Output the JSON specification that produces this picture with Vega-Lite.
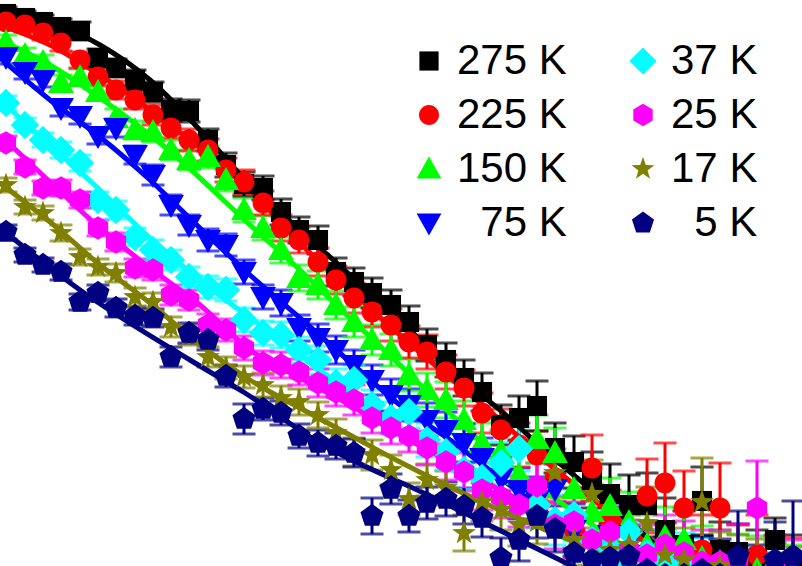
{
"$schema": "https://vega.github.io/schema/vega-lite/v6.json",
"width": 802, "height": 566, "padding": 0, "autosize": {"type": "none"},
"config": {"view": {"stroke": null}, "font": "Liberation Sans",
 "legend": {"title": null, "orient": "none", "legendX": 408, "legendY": 40, "columns": 2, "symbolSize": 1600, "symbolStrokeWidth": 0, "symbolOpacity": 1, "labelFontSize": 42, "labelFont": "Liberation Sans", "labelColor": "#000000", "labelOffset": 7, "rowPadding": 12, "columnPadding": 55, "padding": 0, "labelLimit": 400}},
"datasets": {
"pts": [
{"T":"275 K","q":6,"I":14,"e":7},{"T":"275 K","q":25,"I":18,"e":7},{"T":"275 K","q":43,"I":22,"e":7},{"T":"275 K","q":61,"I":27,"e":8},{"T":"275 K","q":80,"I":31,"e":9},{"T":"275 K","q":98,"I":58,"e":9},{"T":"275 K","q":116,"I":68,"e":9},{"T":"275 K","q":135,"I":80,"e":10},{"T":"275 K","q":153,"I":92,"e":10},{"T":"275 K","q":171,"I":110,"e":11},{"T":"275 K","q":189,"I":111,"e":11},{"T":"275 K","q":208,"I":140,"e":11},{"T":"275 K","q":226,"I":165,"e":12},{"T":"275 K","q":244,"I":184,"e":12},{"T":"275 K","q":263,"I":188,"e":12},{"T":"275 K","q":281,"I":212,"e":13},{"T":"275 K","q":299,"I":230,"e":13},{"T":"275 K","q":318,"I":240,"e":14},{"T":"275 K","q":336,"I":272,"e":14},{"T":"275 K","q":354,"I":282,"e":14},{"T":"275 K","q":372,"I":293,"e":15},{"T":"275 K","q":391,"I":305,"e":15},{"T":"275 K","q":409,"I":322,"e":16},{"T":"275 K","q":427,"I":345,"e":16},{"T":"275 K","q":446,"I":360,"e":17},{"T":"275 K","q":464,"I":378,"e":18},{"T":"275 K","q":482,"I":392,"e":19},{"T":"275 K","q":501,"I":425,"e":20},{"T":"275 K","q":519,"I":418,"e":22},{"T":"275 K","q":537,"I":406,"e":25},{"T":"275 K","q":555,"I":448,"e":25},{"T":"275 K","q":574,"I":462,"e":26},{"T":"275 K","q":592,"I":480,"e":28},{"T":"275 K","q":610,"I":494,"e":30},{"T":"275 K","q":629,"I":505,"e":30},{"T":"275 K","q":647,"I":505,"e":32},{"T":"275 K","q":665,"I":530,"e":32},{"T":"275 K","q":684,"I":545,"e":34},{"T":"275 K","q":702,"I":501,"e":34},{"T":"275 K","q":720,"I":550,"e":28},{"T":"275 K","q":738,"I":552,"e":28},{"T":"275 K","q":757,"I":560,"e":30},{"T":"275 K","q":775,"I":540,"e":22},{"T":"275 K","q":793,"I":565,"e":30},
{"T":"225 K","q":6,"I":22,"e":7},{"T":"225 K","q":25,"I":25,"e":7},{"T":"225 K","q":43,"I":33,"e":7},{"T":"225 K","q":61,"I":43,"e":8},{"T":"225 K","q":80,"I":60,"e":8},{"T":"225 K","q":98,"I":77,"e":9},{"T":"225 K","q":116,"I":90,"e":9},{"T":"225 K","q":135,"I":100,"e":9},{"T":"225 K","q":153,"I":115,"e":10},{"T":"225 K","q":171,"I":128,"e":10},{"T":"225 K","q":189,"I":140,"e":11},{"T":"225 K","q":208,"I":150,"e":11},{"T":"225 K","q":226,"I":170,"e":12},{"T":"225 K","q":244,"I":182,"e":12},{"T":"225 K","q":263,"I":203,"e":12},{"T":"225 K","q":281,"I":228,"e":13},{"T":"225 K","q":299,"I":240,"e":13},{"T":"225 K","q":318,"I":262,"e":14},{"T":"225 K","q":336,"I":280,"e":14},{"T":"225 K","q":354,"I":298,"e":15},{"T":"225 K","q":372,"I":312,"e":15},{"T":"225 K","q":391,"I":325,"e":16},{"T":"225 K","q":409,"I":342,"e":16},{"T":"225 K","q":427,"I":352,"e":17},{"T":"225 K","q":446,"I":372,"e":17},{"T":"225 K","q":464,"I":388,"e":18},{"T":"225 K","q":482,"I":413,"e":20},{"T":"225 K","q":501,"I":430,"e":21},{"T":"225 K","q":519,"I":445,"e":22},{"T":"225 K","q":537,"I":455,"e":24},{"T":"225 K","q":555,"I":478,"e":25},{"T":"225 K","q":574,"I":530,"e":28},{"T":"225 K","q":592,"I":468,"e":33},{"T":"225 K","q":610,"I":520,"e":30},{"T":"225 K","q":629,"I":530,"e":32},{"T":"225 K","q":647,"I":496,"e":37},{"T":"225 K","q":665,"I":483,"e":40},{"T":"225 K","q":684,"I":508,"e":37},{"T":"225 K","q":702,"I":550,"e":35},{"T":"225 K","q":720,"I":508,"e":45},{"T":"225 K","q":738,"I":565,"e":40},{"T":"225 K","q":757,"I":555,"e":40},{"T":"225 K","q":775,"I":575,"e":40},{"T":"225 K","q":793,"I":578,"e":40},
{"T":"150 K","q":6,"I":42,"e":7},{"T":"150 K","q":25,"I":55,"e":7},{"T":"150 K","q":43,"I":62,"e":7},{"T":"150 K","q":61,"I":83,"e":8},{"T":"150 K","q":80,"I":77,"e":8},{"T":"150 K","q":98,"I":92,"e":8},{"T":"150 K","q":116,"I":118,"e":9},{"T":"150 K","q":135,"I":130,"e":9},{"T":"150 K","q":153,"I":132,"e":10},{"T":"150 K","q":171,"I":150,"e":10},{"T":"150 K","q":189,"I":160,"e":10},{"T":"150 K","q":208,"I":157,"e":11},{"T":"150 K","q":226,"I":180,"e":11},{"T":"150 K","q":244,"I":210,"e":12},{"T":"150 K","q":263,"I":228,"e":12},{"T":"150 K","q":281,"I":250,"e":13},{"T":"150 K","q":299,"I":278,"e":13},{"T":"150 K","q":318,"I":285,"e":14},{"T":"150 K","q":336,"I":305,"e":14},{"T":"150 K","q":354,"I":322,"e":15},{"T":"150 K","q":372,"I":340,"e":15},{"T":"150 K","q":391,"I":350,"e":16},{"T":"150 K","q":409,"I":375,"e":16},{"T":"150 K","q":427,"I":390,"e":17},{"T":"150 K","q":446,"I":400,"e":18},{"T":"150 K","q":464,"I":420,"e":19},{"T":"150 K","q":482,"I":443,"e":20},{"T":"150 K","q":501,"I":452,"e":21},{"T":"150 K","q":519,"I":475,"e":22},{"T":"150 K","q":537,"I":439,"e":24},{"T":"150 K","q":555,"I":453,"e":25},{"T":"150 K","q":574,"I":489,"e":26},{"T":"150 K","q":592,"I":512,"e":28},{"T":"150 K","q":610,"I":506,"e":28},{"T":"150 K","q":629,"I":522,"e":30},{"T":"150 K","q":647,"I":545,"e":30},{"T":"150 K","q":665,"I":537,"e":30},{"T":"150 K","q":684,"I":540,"e":32},{"T":"150 K","q":702,"I":558,"e":32},{"T":"150 K","q":720,"I":562,"e":32},{"T":"150 K","q":738,"I":566,"e":32},{"T":"150 K","q":757,"I":570,"e":34},{"T":"150 K","q":775,"I":575,"e":34},{"T":"150 K","q":793,"I":580,"e":35},
{"T":"75 K","q":6,"I":57,"e":7},{"T":"75 K","q":25,"I":72,"e":7},{"T":"75 K","q":43,"I":80,"e":7},{"T":"75 K","q":61,"I":108,"e":8},{"T":"75 K","q":80,"I":116,"e":8},{"T":"75 K","q":98,"I":136,"e":8},{"T":"75 K","q":116,"I":128,"e":9},{"T":"75 K","q":135,"I":155,"e":9},{"T":"75 K","q":153,"I":175,"e":10},{"T":"75 K","q":171,"I":205,"e":10},{"T":"75 K","q":189,"I":225,"e":10},{"T":"75 K","q":208,"I":240,"e":11},{"T":"75 K","q":226,"I":245,"e":11},{"T":"75 K","q":244,"I":272,"e":12},{"T":"75 K","q":263,"I":297,"e":12},{"T":"75 K","q":281,"I":303,"e":13},{"T":"75 K","q":299,"I":328,"e":13},{"T":"75 K","q":318,"I":338,"e":14},{"T":"75 K","q":336,"I":350,"e":14},{"T":"75 K","q":354,"I":365,"e":15},{"T":"75 K","q":372,"I":380,"e":15},{"T":"75 K","q":391,"I":395,"e":16},{"T":"75 K","q":409,"I":405,"e":16},{"T":"75 K","q":427,"I":420,"e":17},{"T":"75 K","q":446,"I":430,"e":18},{"T":"75 K","q":464,"I":443,"e":19},{"T":"75 K","q":482,"I":458,"e":20},{"T":"75 K","q":501,"I":478,"e":21},{"T":"75 K","q":519,"I":490,"e":22},{"T":"75 K","q":537,"I":500,"e":23},{"T":"75 K","q":555,"I":489,"e":25},{"T":"75 K","q":574,"I":530,"e":26},{"T":"75 K","q":592,"I":545,"e":27},{"T":"75 K","q":610,"I":535,"e":28},{"T":"75 K","q":629,"I":555,"e":29},{"T":"75 K","q":647,"I":560,"e":30},{"T":"75 K","q":665,"I":570,"e":33},{"T":"75 K","q":684,"I":575,"e":32},{"T":"75 K","q":702,"I":572,"e":35},{"T":"75 K","q":720,"I":580,"e":33},{"T":"75 K","q":738,"I":585,"e":35},{"T":"75 K","q":757,"I":588,"e":35},{"T":"75 K","q":775,"I":590,"e":36},{"T":"75 K","q":793,"I":595,"e":36},
{"T":"37 K","q":6,"I":103,"e":7},{"T":"37 K","q":25,"I":125,"e":7},{"T":"37 K","q":43,"I":140,"e":7},{"T":"37 K","q":61,"I":150,"e":8},{"T":"37 K","q":80,"I":163,"e":8},{"T":"37 K","q":98,"I":200,"e":8},{"T":"37 K","q":116,"I":210,"e":9},{"T":"37 K","q":135,"I":237,"e":9},{"T":"37 K","q":153,"I":250,"e":10},{"T":"37 K","q":171,"I":260,"e":10},{"T":"37 K","q":189,"I":277,"e":10},{"T":"37 K","q":208,"I":287,"e":11},{"T":"37 K","q":226,"I":290,"e":11},{"T":"37 K","q":244,"I":320,"e":12},{"T":"37 K","q":263,"I":333,"e":12},{"T":"37 K","q":281,"I":335,"e":13},{"T":"37 K","q":299,"I":350,"e":13},{"T":"37 K","q":318,"I":360,"e":14},{"T":"37 K","q":336,"I":383,"e":14},{"T":"37 K","q":354,"I":380,"e":15},{"T":"37 K","q":372,"I":405,"e":15},{"T":"37 K","q":391,"I":418,"e":16},{"T":"37 K","q":409,"I":412,"e":16},{"T":"37 K","q":427,"I":440,"e":17},{"T":"37 K","q":446,"I":452,"e":18},{"T":"37 K","q":464,"I":470,"e":19},{"T":"37 K","q":482,"I":478,"e":20},{"T":"37 K","q":501,"I":463,"e":21},{"T":"37 K","q":519,"I":449,"e":22},{"T":"37 K","q":537,"I":505,"e":23},{"T":"37 K","q":555,"I":520,"e":25},{"T":"37 K","q":574,"I":515,"e":26},{"T":"37 K","q":592,"I":540,"e":27},{"T":"37 K","q":610,"I":548,"e":28},{"T":"37 K","q":629,"I":532,"e":30},{"T":"37 K","q":647,"I":553,"e":30},{"T":"37 K","q":665,"I":560,"e":30},{"T":"37 K","q":684,"I":565,"e":32},{"T":"37 K","q":702,"I":570,"e":32},{"T":"37 K","q":720,"I":575,"e":33},{"T":"37 K","q":738,"I":580,"e":34},{"T":"37 K","q":757,"I":583,"e":35},{"T":"37 K","q":775,"I":588,"e":35},{"T":"37 K","q":793,"I":590,"e":36},
{"T":"25 K","q":6,"I":143,"e":7},{"T":"25 K","q":25,"I":167,"e":7},{"T":"25 K","q":43,"I":188,"e":7},{"T":"25 K","q":61,"I":188,"e":8},{"T":"25 K","q":80,"I":200,"e":8},{"T":"25 K","q":98,"I":228,"e":8},{"T":"25 K","q":116,"I":242,"e":9},{"T":"25 K","q":135,"I":268,"e":9},{"T":"25 K","q":153,"I":270,"e":10},{"T":"25 K","q":171,"I":295,"e":10},{"T":"25 K","q":189,"I":300,"e":10},{"T":"25 K","q":208,"I":325,"e":11},{"T":"25 K","q":226,"I":330,"e":11},{"T":"25 K","q":244,"I":348,"e":12},{"T":"25 K","q":263,"I":363,"e":12},{"T":"25 K","q":281,"I":365,"e":13},{"T":"25 K","q":299,"I":372,"e":13},{"T":"25 K","q":318,"I":383,"e":14},{"T":"25 K","q":336,"I":392,"e":14},{"T":"25 K","q":354,"I":400,"e":15},{"T":"25 K","q":372,"I":418,"e":15},{"T":"25 K","q":391,"I":428,"e":16},{"T":"25 K","q":409,"I":436,"e":16},{"T":"25 K","q":427,"I":448,"e":17},{"T":"25 K","q":446,"I":462,"e":18},{"T":"25 K","q":464,"I":472,"e":19},{"T":"25 K","q":482,"I":490,"e":20},{"T":"25 K","q":501,"I":497,"e":21},{"T":"25 K","q":519,"I":505,"e":22},{"T":"25 K","q":537,"I":486,"e":23},{"T":"25 K","q":555,"I":525,"e":24},{"T":"25 K","q":574,"I":522,"e":26},{"T":"25 K","q":592,"I":540,"e":27},{"T":"25 K","q":610,"I":532,"e":28},{"T":"25 K","q":629,"I":550,"e":30},{"T":"25 K","q":647,"I":555,"e":30},{"T":"25 K","q":665,"I":545,"e":30},{"T":"25 K","q":684,"I":553,"e":32},{"T":"25 K","q":702,"I":562,"e":32},{"T":"25 K","q":720,"I":562,"e":32},{"T":"25 K","q":738,"I":558,"e":34},{"T":"25 K","q":757,"I":508,"e":47},{"T":"25 K","q":775,"I":570,"e":34},{"T":"25 K","q":793,"I":575,"e":35},
{"T":"17 K","q":6,"I":185,"e":7},{"T":"17 K","q":25,"I":207,"e":7},{"T":"17 K","q":43,"I":213,"e":7},{"T":"17 K","q":61,"I":233,"e":8},{"T":"17 K","q":80,"I":257,"e":8},{"T":"17 K","q":98,"I":267,"e":8},{"T":"17 K","q":116,"I":273,"e":9},{"T":"17 K","q":135,"I":297,"e":9},{"T":"17 K","q":153,"I":302,"e":9},{"T":"17 K","q":171,"I":327,"e":10},{"T":"17 K","q":189,"I":335,"e":10},{"T":"17 K","q":208,"I":357,"e":10},{"T":"17 K","q":226,"I":368,"e":11},{"T":"17 K","q":244,"I":377,"e":11},{"T":"17 K","q":263,"I":385,"e":12},{"T":"17 K","q":281,"I":398,"e":12},{"T":"17 K","q":299,"I":402,"e":13},{"T":"17 K","q":318,"I":415,"e":13},{"T":"17 K","q":336,"I":433,"e":14},{"T":"17 K","q":354,"I":452,"e":14},{"T":"17 K","q":372,"I":455,"e":15},{"T":"17 K","q":391,"I":470,"e":15},{"T":"17 K","q":409,"I":499,"e":16},{"T":"17 K","q":427,"I":480,"e":16},{"T":"17 K","q":446,"I":488,"e":17},{"T":"17 K","q":464,"I":533,"e":18},{"T":"17 K","q":482,"I":502,"e":19},{"T":"17 K","q":501,"I":510,"e":20},{"T":"17 K","q":519,"I":525,"e":21},{"T":"17 K","q":537,"I":522,"e":22},{"T":"17 K","q":555,"I":473,"e":24},{"T":"17 K","q":574,"I":540,"e":25},{"T":"17 K","q":592,"I":494,"e":34},{"T":"17 K","q":610,"I":550,"e":28},{"T":"17 K","q":629,"I":545,"e":30},{"T":"17 K","q":647,"I":523,"e":36},{"T":"17 K","q":665,"I":555,"e":32},{"T":"17 K","q":684,"I":560,"e":32},{"T":"17 K","q":702,"I":502,"e":44},{"T":"17 K","q":720,"I":566,"e":34},{"T":"17 K","q":738,"I":570,"e":35},{"T":"17 K","q":757,"I":575,"e":36},{"T":"17 K","q":775,"I":580,"e":37},{"T":"17 K","q":793,"I":585,"e":38},
{"T":"5 K","q":6,"I":232,"e":7},{"T":"5 K","q":25,"I":255,"e":7},{"T":"5 K","q":43,"I":265,"e":7},{"T":"5 K","q":61,"I":272,"e":8},{"T":"5 K","q":80,"I":302,"e":8},{"T":"5 K","q":98,"I":293,"e":8},{"T":"5 K","q":116,"I":308,"e":9},{"T":"5 K","q":135,"I":316,"e":9},{"T":"5 K","q":153,"I":318,"e":9},{"T":"5 K","q":171,"I":357,"e":10},{"T":"5 K","q":189,"I":333,"e":10},{"T":"5 K","q":208,"I":340,"e":10},{"T":"5 K","q":226,"I":376,"e":11},{"T":"5 K","q":244,"I":419,"e":15},{"T":"5 K","q":263,"I":409,"e":11},{"T":"5 K","q":281,"I":413,"e":12},{"T":"5 K","q":299,"I":436,"e":12},{"T":"5 K","q":318,"I":443,"e":13},{"T":"5 K","q":336,"I":446,"e":13},{"T":"5 K","q":354,"I":453,"e":14},{"T":"5 K","q":372,"I":516,"e":18},{"T":"5 K","q":391,"I":489,"e":15},{"T":"5 K","q":409,"I":516,"e":16},{"T":"5 K","q":427,"I":503,"e":16},{"T":"5 K","q":446,"I":499,"e":17},{"T":"5 K","q":464,"I":506,"e":18},{"T":"5 K","q":482,"I":518,"e":19},{"T":"5 K","q":501,"I":558,"e":20},{"T":"5 K","q":519,"I":540,"e":21},{"T":"5 K","q":537,"I":516,"e":22},{"T":"5 K","q":555,"I":529,"e":23},{"T":"5 K","q":574,"I":553,"e":24},{"T":"5 K","q":592,"I":560,"e":26},{"T":"5 K","q":610,"I":558,"e":27},{"T":"5 K","q":629,"I":556,"e":28},{"T":"5 K","q":647,"I":570,"e":30},{"T":"5 K","q":665,"I":575,"e":30},{"T":"5 K","q":684,"I":575,"e":32},{"T":"5 K","q":702,"I":570,"e":34},{"T":"5 K","q":720,"I":575,"e":36},{"T":"5 K","q":738,"I":556,"e":45},{"T":"5 K","q":757,"I":585,"e":40},{"T":"5 K","q":775,"I":560,"e":38},{"T":"5 K","q":793,"I":556,"e":55}
],
"fit": [
{"T":"275 K","q":0,"I":12},{"T":"275 K","q":50,"I":22},{"T":"275 K","q":100,"I":45},{"T":"275 K","q":150,"I":80},{"T":"275 K","q":200,"I":130},{"T":"275 K","q":250,"I":185},{"T":"275 K","q":300,"I":230},{"T":"275 K","q":350,"I":275},{"T":"275 K","q":400,"I":320},{"T":"275 K","q":450,"I":370},{"T":"275 K","q":500,"I":410},{"T":"275 K","q":550,"I":455},{"T":"275 K","q":600,"I":497},{"T":"275 K","q":690,"I":575},
{"T":"225 K","q":0,"I":25},{"T":"225 K","q":50,"I":45},{"T":"225 K","q":100,"I":75},{"T":"225 K","q":150,"I":110},{"T":"225 K","q":200,"I":148},{"T":"225 K","q":250,"I":190},{"T":"225 K","q":300,"I":243},{"T":"225 K","q":350,"I":290},{"T":"225 K","q":400,"I":335},{"T":"225 K","q":450,"I":378},{"T":"225 K","q":500,"I":420},{"T":"225 K","q":550,"I":465},{"T":"225 K","q":600,"I":505},{"T":"225 K","q":690,"I":580},
{"T":"150 K","q":0,"I":40},{"T":"150 K","q":50,"I":65},{"T":"150 K","q":100,"I":98},{"T":"150 K","q":150,"I":135},{"T":"150 K","q":180,"I":160},{"T":"150 K","q":250,"I":225},{"T":"150 K","q":300,"I":270},{"T":"150 K","q":350,"I":318},{"T":"150 K","q":400,"I":365},{"T":"150 K","q":457,"I":420},{"T":"150 K","q":500,"I":458},{"T":"150 K","q":550,"I":495},{"T":"150 K","q":600,"I":530},{"T":"150 K","q":670,"I":575},
{"T":"75 K","q":0,"I":58},{"T":"75 K","q":50,"I":100},{"T":"75 K","q":100,"I":137},{"T":"75 K","q":150,"I":180},{"T":"75 K","q":200,"I":228},{"T":"75 K","q":250,"I":275},{"T":"75 K","q":300,"I":318},{"T":"75 K","q":350,"I":362},{"T":"75 K","q":400,"I":405},{"T":"75 K","q":450,"I":440},{"T":"75 K","q":500,"I":478},{"T":"75 K","q":550,"I":515},{"T":"75 K","q":600,"I":550},{"T":"75 K","q":640,"I":575},
{"T":"37 K","q":0,"I":100},{"T":"37 K","q":50,"I":145},{"T":"37 K","q":100,"I":190},{"T":"37 K","q":150,"I":238},{"T":"37 K","q":200,"I":280},{"T":"37 K","q":250,"I":318},{"T":"37 K","q":300,"I":355},{"T":"37 K","q":350,"I":393},{"T":"37 K","q":400,"I":430},{"T":"37 K","q":450,"I":462},{"T":"37 K","q":500,"I":495},{"T":"37 K","q":550,"I":525},{"T":"37 K","q":600,"I":553},{"T":"37 K","q":640,"I":575},
{"T":"25 K","q":0,"I":135},{"T":"25 K","q":50,"I":182},{"T":"25 K","q":100,"I":228},{"T":"25 K","q":150,"I":268},{"T":"25 K","q":200,"I":305},{"T":"25 K","q":250,"I":350},{"T":"25 K","q":300,"I":378},{"T":"25 K","q":350,"I":405},{"T":"25 K","q":400,"I":435},{"T":"25 K","q":450,"I":462},{"T":"25 K","q":500,"I":490},{"T":"25 K","q":550,"I":515},{"T":"25 K","q":600,"I":540},{"T":"25 K","q":680,"I":575},
{"T":"17 K","q":0,"I":183},{"T":"17 K","q":50,"I":222},{"T":"17 K","q":100,"I":265},{"T":"17 K","q":150,"I":303},{"T":"17 K","q":200,"I":345},{"T":"17 K","q":250,"I":380},{"T":"17 K","q":300,"I":408},{"T":"17 K","q":350,"I":435},{"T":"17 K","q":400,"I":462},{"T":"17 K","q":450,"I":487},{"T":"17 K","q":500,"I":510},{"T":"17 K","q":550,"I":532},{"T":"17 K","q":600,"I":552},{"T":"17 K","q":660,"I":575},
{"T":"5 K","q":0,"I":228},{"T":"5 K","q":80,"I":290},{"T":"5 K","q":190,"I":360},{"T":"5 K","q":245,"I":393},{"T":"5 K","q":320,"I":443},{"T":"5 K","q":430,"I":496},{"T":"5 K","q":560,"I":560},{"T":"5 K","q":590,"I":575}
]
},
"encoding": {
"x": {"field": "q", "type": "quantitative", "scale": {"domain": [0, 802], "nice": false, "zero": false}, "axis": null},
"y": {"field": "I", "type": "quantitative", "scale": {"domain": [0, 566], "reverse": true, "nice": false, "zero": false}, "axis": null}
},
"layer": [
{"data": {"name": "pts"},
 "mark": {"type": "errorbar", "ticks": true, "size": 23, "thickness": 3},
 "encoding": {"yError": {"field": "e"},
  "color": {"field": "T", "type": "nominal"}}},
{"data": {"name": "fit"},
 "mark": {"type": "line", "strokeWidth": 5, "interpolate": "monotone"},
 "encoding": {"color": {"field": "T", "type": "nominal"}}},
{"data": {"name": "pts"},
 "mark": {"type": "point", "filled": true, "size": 1750, "opacity": 1, "strokeWidth": 0},
 "encoding": {
  "color": {"field": "T", "type": "nominal", "scale": {"domain": ["275 K","225 K","150 K","75 K","37 K","25 K","17 K","5 K"], "range": ["#000000","#FF0000","#00FF00","#0000FF","#00FFFF","#FF00FF","#808000","#000080"]},
   "legend": {"labelExpr": "datum.label == '75 K' || datum.label == '5 K' ? '\u200b\u00a0\u00a0' + datum.label : datum.label"}},
  "shape": {"field": "T", "type": "nominal", "scale": {"domain": ["275 K","225 K","150 K","75 K","37 K","25 K","17 K","5 K"], "range": [
   "M-0.48,-0.48H0.48V0.48H-0.48Z",
   "M0.5,0A0.5,0.5,0,1,1,-0.5,0A0.5,0.5,0,1,1,0.5,0Z",
   "M0,-0.62L0.62,0.48L-0.62,0.48Z",
   "M0,0.62L0.62,-0.48L-0.62,-0.48Z",
   "M0,-0.68L0.68,0L0,0.68L-0.68,0Z",
   "M0,-0.56L0.485,-0.28L0.485,0.28L0,0.56L-0.485,0.28L-0.485,-0.28Z",
   "M0,-0.6L0.141,-0.194L0.571,-0.185L0.228,0.074L0.353,0.485L0,0.24L-0.353,0.485L-0.228,0.074L-0.571,-0.185L-0.141,-0.194Z",
   "M0,-0.58L0.552,-0.179L0.341,0.469L-0.341,0.469L-0.552,-0.179Z"]},
   "legend": {"labelExpr": "datum.label == '75 K' || datum.label == '5 K' ? '\u200b\u00a0\u00a0' + datum.label : datum.label"}}
 }}
]
}
